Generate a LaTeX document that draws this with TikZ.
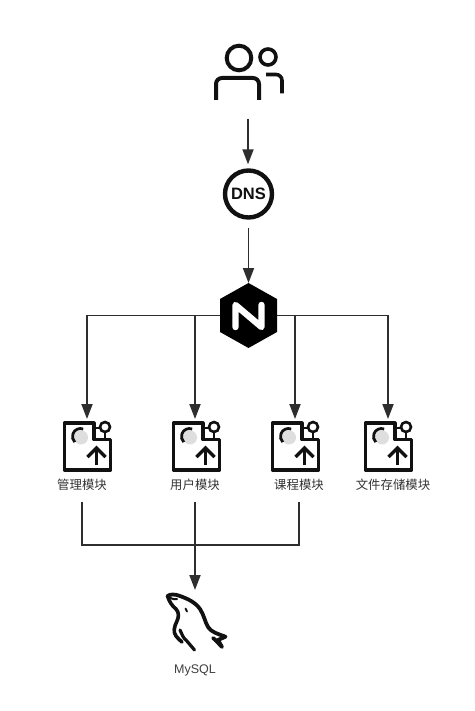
\documentclass[tikz,border=0pt]{standalone}
\usepackage{fontspec}
\setmainfont{Liberation Sans}
\newfontfamily\cjk{Noto Sans CJK SC}
\usetikzlibrary{arrows.meta,shapes.geometric}
\definecolor{ink}{HTML}{111111}
\definecolor{wire}{HTML}{2E2E2E}
\tikzset{
  x=1pt,y=-1pt,
  wirel/.style={draw=wire,line width=1.8pt},
  arrowl/.style={wirel,-{Triangle[length=15pt,width=11pt]},shorten >=0pt},
  holder/.style={inner sep=0pt,outer sep=0pt},
  modlabel/.style={inner sep=0pt,font=\cjk\fontsize{12.4}{14}\selectfont,text=black!80},
  icon/.style={draw=ink,line width=3.2pt,line cap=butt,line join=round},
}
\newcommand{\modicon}[1]{%
  \begin{scope}[shift={(#1,0)}]
    \fill[black!13] (81.5,437.5) circle (7);
    \draw[ink,line width=2.8pt] (83.7,429) arc (-70:-225:8);
    \draw[icon] (65,423) -- (94.5,423) -- (94.5,439.5) -- (111,439.5) -- (111,470) -- (65,470) -- cycle;
    \draw[ink,line width=2.6pt] (94.5,428) -- (100.5,428);
    \draw[ink,line width=2.6pt] (105.5,427) circle (5);
    \draw[ink,line width=2.6pt] (105.5,432) -- (105.5,439);
    \draw[ink,line width=3.4pt] (97,465) -- (97,449);
    \draw[ink,line width=3.4pt,line join=miter] (88,457) -- (97,448) -- (106,457);
  \end{scope}}
\begin{document}
\begin{tikzpicture}
\useasboundingbox (0,0) rectangle (474,711);
\fill[white] (0,0) rectangle (474,711);
% user icon
\node[holder,minimum width=70pt,minimum height=60pt] (users) at (248,71) {};
\draw[ink,line width=4pt] (239,58) circle (12.3);
\draw[ink,line width=4pt,line join=round] (216,100) -- (216,84) arc (180:270:6) -- (253,78) arc (270:360:6) -- (259,100);
\draw[ink,line width=3.6pt] (268,57) circle (8);
\draw[ink,line width=3.6pt] (266,74.5) -- (276,74.5) arc (270:360:6) -- (282,93.5);
% dns
\node[circle,draw=ink,line width=4.4pt,minimum size=47pt,inner sep=0pt,font=\bfseries\fontsize{16.5}{18}\selectfont,text=ink] (dns) at (248.5,194) {DNS};
% nginx
\node[holder,minimum width=57pt,minimum height=65pt] (nginx) at (248.5,315.5) {};
\fill[black] (248.5,283) -- (277,299) -- (277,332) -- (248.5,348) -- (220,332) -- (220,299) -- cycle;
\draw[white,line width=6.4pt,line join=round,line cap=round] (235.5,327) -- (235.5,305) -- (261.5,327) -- (261.5,305);
% modules
\node[holder,minimum width=50pt,minimum height=52pt] (m1) at (87,445) {};
\node[holder,minimum width=50pt,minimum height=52pt] (m2) at (195,445) {};
\node[holder,minimum width=50pt,minimum height=52pt] (m3) at (295,445) {};
\node[holder,minimum width=50pt,minimum height=52pt] (m4) at (388,445) {};
\modicon{-0.5}\modicon{108.5}\modicon{207.5}\modicon{300.5}
% labels
\node[modlabel] (l1) at (82,485) {管理模块};
\node[modlabel] (l2) at (195,485) {用户模块};
\node[modlabel] (l3) at (299,485) {课程模块};
\node[modlabel] (l4) at (393,485) {文件存储模块};
% mysql
\node[holder,minimum width=64pt,minimum height=60pt] (mysql) at (195,620) {};
\draw[ink,line width=3.8pt,line join=round,line cap=round]
  (167.5,596) .. controls (170,594) and (175,594) .. (180,596)
  .. controls (188,599) and (195,602) .. (200,609)
  .. controls (204,615) and (205,622) .. (208,627)
  .. controls (211,632) and (218,634) .. (225.5,636.7)
  -- (218,640) -- (222,647)
  .. controls (219,644) and (216,640) .. (213,638);
\draw[ink,line width=3.6pt,line join=round,line cap=round]
  (167.5,596) .. controls (169,601) and (172,606) .. (176,609)
  .. controls (179,612) and (179,617) .. (177,621)
  .. controls (174,627) and (173,632) .. (176,636)
  .. controls (178,639) and (180,640) .. (182,642);
\draw[ink,line width=3.2pt,line join=round,line cap=round]
  (180,630) .. controls (182,634) and (183,638) .. (186,640) -- (194.5,650);
\draw[ink,line width=1.8pt,line cap=round] (185.5,608.5) -- (187,611.5);
\draw[ink,line width=2pt,line cap=round] (168,596.5) .. controls (172,599) and (175,600) .. (177,599);
\node[inner sep=0pt,font=\fontsize{12.5}{14}\selectfont,text=black!75] (mysqlt) at (195,670) {MySQL};
% connectors
\coordinate (merge) at (195,545);
\draw[arrowl,shorten <=18pt,shorten >=4pt] (users.south) -- (dns.north -| users.south);
\draw[arrowl,shorten <=8pt] (dns.south) -- (nginx.north);
\draw[arrowl] (nginx.west) -| (m1.north);
\draw[arrowl] (nginx.west) -| (m2.north);
\draw[arrowl] (nginx.east) -| (m3.north);
\draw[arrowl] (nginx.east) -| (m4.north);
\draw[wirel] (l1.south) ++(0,11) |- (merge);
\draw[wirel] (l3.south) ++(0,11) |- (merge);
\draw[arrowl] (l2.south) ++(0,11) -- (mysql.north);
\end{tikzpicture}
\end{document}
